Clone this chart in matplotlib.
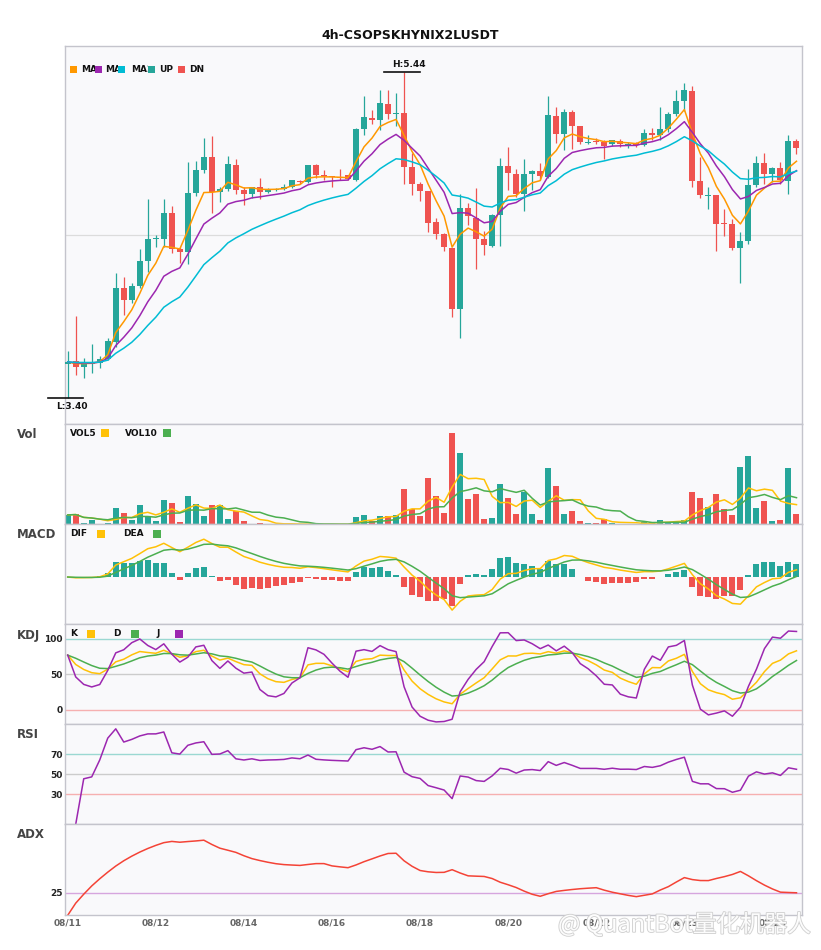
import numpy as np
import pandas as pd
import matplotlib
matplotlib.use("Agg")
import matplotlib.pyplot as plt
from matplotlib.patches import Rectangle
from matplotlib.transforms import Bbox, TransformedBbox
import matplotlib.patheffects as pe

symbol = "4h-CSOPSKHYNIX2LUSDT"

opens = [3.613, 3.633, 3.592, 3.615, 3.623, 3.644, 3.754, 4.089, 4.014, 4.101,
         4.259, 4.392, 4.394, 4.559, 4.330, 4.313, 4.685, 4.825, 4.908, 4.690,
         4.706, 4.856, 4.700, 4.677, 4.719, 4.687, 4.702, 4.706, 4.719, 4.758,
         4.752, 4.856, 4.791, 4.785, 4.781, 4.793, 4.766, 5.080, 5.149, 5.136,
         5.236, 5.176, 5.180, 4.843, 4.737, 4.694, 4.500, 4.425, 4.336, 3.956,
         4.586, 4.529, 4.392, 4.353, 4.544, 4.850, 4.804, 4.675, 4.802, 4.818,
         4.783, 5.161, 5.051, 5.186, 5.099, 4.997, 5.008, 5.001, 4.987, 5.006,
         4.983, 4.993, 4.985, 5.060, 5.043, 5.084, 5.178, 5.255, 5.317, 4.756,
         4.665, 4.669, 4.490, 4.486, 4.340, 4.382, 4.731, 4.868, 4.800, 4.837,
         4.758, 5.005]
highs = [3.696, 3.914, 3.654, 3.739, 3.664, 3.779, 4.184, 4.157, 4.122, 4.330,
         4.644, 4.419, 4.644, 4.602, 4.346, 4.875, 4.883, 5.026, 5.037, 4.721,
         4.912, 4.893, 4.717, 4.721, 4.775, 4.712, 4.714, 4.741, 4.766, 4.762,
         4.858, 4.862, 4.825, 4.787, 4.833, 4.798, 5.091, 5.286, 5.201, 5.324,
         5.324, 5.307, 5.440, 4.933, 4.750, 4.694, 4.525, 4.434, 4.340, 4.675,
         4.617, 4.712, 4.446, 4.554, 4.900, 4.968, 4.831, 4.893, 4.825, 4.870,
         5.286, 5.220, 5.209, 5.199, 5.103, 5.047, 5.026, 5.012, 5.016, 5.022,
         4.999, 5.001, 5.080, 5.087, 5.218, 5.188, 5.328, 5.369, 5.349, 4.908,
         4.719, 4.669, 4.581, 4.519, 4.440, 4.831, 4.914, 4.933, 4.845, 4.875,
         5.043, 5.020]
lows = [3.400, 3.542, 3.529, 3.556, 3.586, 3.640, 3.723, 3.920, 3.997, 4.087,
        4.191, 4.342, 4.342, 4.305, 4.243, 4.238, 4.665, 4.808, 4.559, 4.625,
        4.696, 4.679, 4.608, 4.654, 4.646, 4.683, 4.696, 4.700, 4.715, 4.741,
        4.746, 4.775, 4.762, 4.721, 4.762, 4.762, 4.758, 5.045, 5.112, 5.074,
        5.143, 5.099, 4.739, 4.669, 4.631, 4.438, 4.394, 4.321, 3.906, 3.779,
        4.482, 4.207, 4.294, 4.342, 4.353, 4.700, 4.658, 4.571, 4.700, 4.762,
        4.779, 4.995, 4.949, 4.958, 4.991, 4.987, 4.987, 4.895, 4.974, 4.970,
        4.966, 4.970, 4.978, 5.012, 5.012, 5.064, 5.161, 5.195, 4.721, 4.654,
        4.583, 4.321, 4.413, 4.326, 4.122, 4.365, 4.721, 4.741, 4.752, 4.741,
        4.675, 4.929]
closes = [3.627, 3.592, 3.619, 3.621, 3.646, 3.758, 4.089, 4.014, 4.101, 4.259,
          4.394, 4.396, 4.559, 4.330, 4.313, 4.681, 4.825, 4.908, 4.690, 4.706,
          4.862, 4.700, 4.675, 4.719, 4.687, 4.702, 4.708, 4.719, 4.762, 4.750,
          4.856, 4.796, 4.787, 4.781, 4.777, 4.773, 5.080, 5.155, 5.136, 5.243,
          5.174, 5.180, 4.845, 4.739, 4.696, 4.496, 4.425, 4.346, 3.956, 4.586,
          4.540, 4.394, 4.359, 4.544, 4.850, 4.808, 4.675, 4.800, 4.818, 4.787,
          5.168, 5.051, 5.186, 5.099, 5.001, 5.001, 5.001, 4.978, 5.012, 4.987,
          4.989, 4.981, 5.060, 5.043, 5.084, 5.178, 5.255, 5.324, 4.758, 4.669,
          4.669, 4.490, 4.486, 4.340, 4.382, 4.731, 4.868, 4.800, 4.837, 4.762,
          5.005, 4.964]
volumes = [28, 30, 4, 13, 2, 4, 49, 34, 13, 58,
           25, 10, 73, 64, 7, 85, 61, 25, 58, 58,
           16, 40, 10, 1, 4, 1, 0.6, 0.5, 0.5, 0.5,
           0.5, 0.5, 0.5, 0.5, 0.5, 0.5, 22, 28, 11, 25,
           25, 28, 106, 46, 25, 139, 85, 34, 271, 214,
           76, 91, 16, 19, 121, 79, 31, 97, 31, 13,
           169, 115, 31, 40, 10, 4, 4, 16, 4, 1,
           1, 1, 6, 6, 13, 6, 10, 13, 97, 79,
           52, 91, 46, 28, 172, 205, 49, 70, 10, 13,
           169, 31]
tick_labels = ["08/11", "08/12", "08/14", "08/16", "08/18", "08/20", "08/22", "08/23", "08/25"]
tick_every = 11
watermark = "@ QuantBot量化机器人"

# ---------- styling ----------
UP = "#26a69a"
DN = "#ef5350"
C_MA5, C_MA10, C_MA20 = "#ff9800", "#9c27b0", "#00bcd4"
C_Y, C_G, C_P = "#ffc107", "#4caf50", "#9c27b0"
BG = "#f9f9fb"
SPINE = "#c4c4cc"

plt.rcParams["font.family"] = ["DejaVu Sans"]

W, H = 821, 950
fig = plt.figure(figsize=(W / 100, H / 100), dpi=100)


def fx(px):
    return px / W


def fy(py):
    return 1 - py / H


L_PX, R_PX = 65.3, 801.7


def make_ax(top, bot):
    ax = fig.add_axes([fx(L_PX), fy(bot), fx(R_PX) - fx(L_PX), (bot - top) / H])
    ax.set_facecolor(BG)
    for s in ax.spines.values():
        s.set_color(SPINE)
        s.set_linewidth(1.0)
    ax.tick_params(length=0, pad=2, labelsize=6.5, colors="#222222")
    return ax


ax_main = make_ax(45.7, 424.3)
ax_vol = make_ax(424.3, 524.3)
ax_macd = make_ax(524.3, 624.3)
ax_kdj = make_ax(624.3, 724.0)
ax_rsi = make_ax(724.0, 824.3)
ax_adx = make_ax(824.3, 915.3)
axes = [ax_main, ax_vol, ax_macd, ax_kdj, ax_rsi, ax_adx]

O = np.array(opens)
Hh = np.array(highs)
Ll = np.array(lows)
C = np.array(closes)
V = np.array(volumes, dtype=float)
n = len(C)
x = np.arange(n)
is_up = C >= O
cols = np.where(is_up, UP, DN)

cs = pd.Series(C)
hs = pd.Series(Hh)
ls = pd.Series(Ll)
vs = pd.Series(V)

# indicators derived from the price data
ma5 = cs.ewm(span=5, adjust=False).mean()
ma10 = cs.ewm(span=10, adjust=False).mean()
ma20 = cs.ewm(span=20, adjust=False).mean()
vol5 = vs.rolling(5, min_periods=1).mean()
vol10 = vs.rolling(10, min_periods=1).mean()

ema_f = cs.ewm(span=6, adjust=False).mean()
ema_s = cs.ewm(span=13, adjust=False).mean()
dif = ema_f - ema_s
dea = dif.ewm(span=5, adjust=False).mean()
hist = 2 * (dif - dea)

low9 = ls.rolling(9, min_periods=1).min()
high9 = hs.rolling(9, min_periods=1).max()
rsv = (cs - low9) / (high9 - low9) * 100
kk = rsv.ewm(alpha=1 / 3, adjust=False).mean()
dd = kk.ewm(alpha=1 / 3, adjust=False).mean()
jj = 3 * kk - 2 * dd

delta = cs.diff()
gain = delta.clip(lower=0)
loss = (-delta).clip(lower=0)
ag = gain.ewm(alpha=1 / 14, adjust=True).mean()
al = loss.ewm(alpha=1 / 14, adjust=True).mean()
rsi = 100 * ag / (ag + al)

pc = cs.shift(1)
tr = pd.concat([hs - ls, (hs - pc).abs(), (ls - pc).abs()], axis=1).max(axis=1)
upm = hs - hs.shift(1)
dnm = ls.shift(1) - ls
pdm = pd.Series(np.where((upm > dnm) & (upm > 0), upm, 0.0))
mdm = pd.Series(np.where((dnm > upm) & (dnm > 0), dnm, 0.0))
atr = tr.ewm(span=14, adjust=False).mean()
pdi = 100 * pdm.ewm(span=14, adjust=False).mean() / atr
mdi = 100 * mdm.ewm(span=14, adjust=False).mean() / atr
dx = (100 * (pdi - mdi).abs() / (pdi + mdi)).fillna(0)
adx = dx.ewm(span=14, adjust=False).mean()

# ---------- main candles ----------
hi_v, lo_v = Hh.max(), Ll.min()
rng = hi_v - lo_v
ax_main.set_ylim(lo_v - 0.08 * rng, hi_v + 0.08 * rng)
ax_main.axhline((hi_v + lo_v) / 2, color="#dcdcdc", lw=0.9, zorder=0)
ax_main.vlines(x, Ll, Hh, colors=cols, lw=0.9, zorder=2)
body_b = np.minimum(O, C)
body_h = np.maximum(np.abs(C - O), 0.007)
ax_main.bar(x, body_h, bottom=body_b, width=0.75, color=cols, lw=0, zorder=3)
ax_main.plot(x, ma5, color=C_MA5, lw=1.1, zorder=4)
ax_main.plot(x, ma10, color=C_MA10, lw=1.1, zorder=4)
ax_main.plot(x, ma20, color=C_MA20, lw=1.1, zorder=4)
ax_main.set_xticks([])
ax_main.set_yticks([])

ih = int(np.argmax(Hh))
il = int(np.argmin(Ll))
ax_main.plot([ih - 2.45, ih + 1.95], [hi_v, hi_v], color="#111111", lw=1.2, clip_on=False, zorder=5)
ax_main.annotate(f"H:{hi_v:.2f}", (ih + 0.55, hi_v), xytext=(0, 2.2), textcoords="offset points",
                 ha="center", va="bottom", fontsize=6.5, fontweight="bold", color="#111111")
ax_main.plot([il - 2.45, il + 1.95], [lo_v, lo_v], color="#111111", lw=1.2, clip_on=False, zorder=5)
ax_main.annotate(f"L:{lo_v:.2f}", (il + 0.55, lo_v), xytext=(0, -2.5), textcoords="offset points",
                 ha="center", va="top", fontsize=6.5, fontweight="bold", color="#111111",
                 annotation_clip=False)

# ---------- volume ----------
ax_vol.bar(x, V, width=0.75, color=cols, lw=0)
ax_vol.plot(x, vol5, color=C_Y, lw=1.1)
ax_vol.plot(x, vol10, color=C_G, lw=1.1)
ax_vol.set_ylim(0, V.max() * 1.1)
ax_vol.set_xticks([])
ax_vol.set_yticks([])

# ---------- MACD ----------
hcols = np.where(hist >= 0, UP, DN)
ax_macd.bar(x, hist, width=0.75, color=hcols, lw=0)
ax_macd.plot(x, dif, color=C_Y, lw=1.1)
ax_macd.plot(x, dea, color=C_G, lw=1.1)
mlo = min(dif.min(), dea.min(), hist.min())
mhi = max(dif.max(), dea.max(), hist.max())
mr = mhi - mlo
ax_macd.set_ylim(mlo - 0.2 * mr, mhi + 0.21 * mr)
ax_macd.set_xticks([])
ax_macd.set_yticks([])

# ---------- KDJ ----------
ax_kdj.axhline(100, color="#9bd8d2", lw=1.0, zorder=0)
ax_kdj.axhline(50, color="#cccccc", lw=1.0, zorder=0)
ax_kdj.axhline(0, color="#f6b0b0", lw=1.0, zorder=0)
ax_kdj.plot(x, kk, color=C_Y, lw=1.1)
ax_kdj.plot(x, dd, color=C_G, lw=1.1)
ax_kdj.plot(x, jj, color=C_P, lw=1.1)
ax_kdj.set_ylim(-20, 120)
ax_kdj.set_yticks([0, 50, 100])
ax_kdj.set_xticks([])

# ---------- RSI ----------
ax_rsi.axhline(70, color="#9bd8d2", lw=1.0, zorder=0)
ax_rsi.axhline(50, color="#cccccc", lw=1.0, zorder=0)
ax_rsi.axhline(30, color="#f6b0b0", lw=1.0, zorder=0)
ax_rsi.plot(x, rsi, color=C_P, lw=1.1)
ax_rsi.set_ylim(0, 100)
ax_rsi.set_yticks([30, 50, 70])
ax_rsi.set_xticks([])

# ---------- ADX ----------
ax_adx.axhline(25, color="#d6a6de", lw=1.0, zorder=0)
ax_adx.plot(x, adx, color="#f44336", lw=1.1)
ax_adx.set_ylim(0, 100)
ax_adx.set_yticks([25])
ax_adx.set_xticks(np.arange(0, n, tick_every)[:len(tick_labels)])
ax_adx.set_xticklabels(tick_labels)
ax_adx.tick_params(axis="x", colors="#666666", labelsize=6.5, pad=2)

for ax in axes:
    ax.set_xlim(-0.3, n - 0.35)
    for lab in ax.get_xticklabels() + ax.get_yticklabels():
        lab.set_fontweight("bold")

# ---------- titles / panel labels ----------
fig.text(0.5, fy(35.5), symbol, ha="center", va="center", fontsize=9, fontweight="bold", color="#111111")
for name, py in [("Vol", 434.5), ("MACD", 534.3), ("KDJ", 635.3), ("RSI", 735.0), ("ADX", 835.0)]:
    fig.text(fx(17), fy(py), name, ha="left", va="center", fontsize=8.5, fontweight="bold", color="#444444")


# ---------- hand-placed legends ----------
def square(px, py, color, size=7.0):
    fig.add_artist(Rectangle((fx(px), fy(py + size / 2)), size / W, size / H,
                             transform=fig.transFigure, facecolor=color, edgecolor="none", zorder=10))


def label(px, py, s, clip_right=None):
    t = fig.text(fx(px), fy(py), s, ha="left", va="center", fontsize=6.5,
                 fontweight="bold", color="#111111", zorder=9)
    if clip_right is not None:
        bb = Bbox.from_extents(fx(px - 2), fy(py + 10), fx(clip_right), fy(py - 10))
        t.set_clip_box(TransformedBbox(bb, fig.transFigure))
        t.set_clip_on(True)
    return t


yl = 69.3
square(70.4, yl, C_MA5)
label(81.0, yl, "MA5", clip_right=94.6)
square(94.6, yl, C_MA10)
label(105.3, yl, "MA10", clip_right=117.9)
square(117.9, yl, C_MA20)
label(131.0, yl, "MA20", clip_right=147.9)
square(147.9, yl, UP)
label(159.0, yl, "UP")
square(177.9, yl, DN)
label(189.0, yl, "DN")

yv = 433.0
label(70.0, yv, "VOL5")
square(101.0, yv, C_Y, 7.7)
label(125.0, yv, "VOL10")
square(163.0, yv, C_G, 7.7)

ym = 533.7
label(70.0, ym, "DIF")
square(97.0, ym, C_Y, 7.7)
label(123.3, ym, "DEA")
square(153.0, ym, C_G, 7.7)

yk = 633.7
label(70.0, yk, "K")
square(87.3, yk, C_Y, 7.7)
label(113.3, yk, "D")
square(131.0, yk, C_G, 7.7)
label(156.5, yk, "J")
square(175.0, yk, C_P, 7.7)

# watermark seen on the reference image
fig.text(fx(558), fy(924.5), watermark, ha="left", va="center", fontsize=17,
         family=["Noto Sans CJK SC", "DejaVu Sans"], fontweight="light",
         color="#ffffff", alpha=0.95, zorder=20,
         path_effects=[pe.withStroke(linewidth=1.3, foreground="#cfcfcf")])

fig.savefig("out.png", dpi=100, facecolor="white")
